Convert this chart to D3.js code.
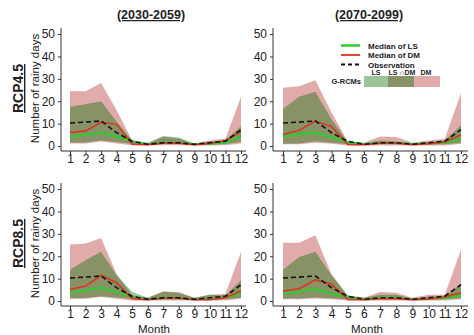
<!DOCTYPE html>
<html>
<head>
<meta charset="utf-8">
<script src="https://cdn.jsdelivr.net/npm/d3@7"></script>
<style>
  body { margin: 0; background: #fff; }
  svg { display: block; font-family: "Liberation Sans", Arial, sans-serif; }
</style>
</head>
<body>
<svg id="chart" width="474" height="335"></svg>
<script>
// months on the x axis
const months = [1, 2, 3, 4, 5, 6, 7, 8, 9, 10, 11, 12];
const yTicks = [0, 10, 20, 30, 40, 50];

// observation (same in all panels)
const observation = [10.3, 10.7, 11.2, 6, 2.1, 0.8, 1.5, 1.5, 0.8, 1.5, 2.2, 7.3];

// RCP4.5, 2030-2059
const r45a_dmHigh = [24.6, 24.5, 28.2, 16, 2.5, 1, 4, 3.3, 1, 2.5, 3.3, 22];
const r45a_dmLow  = [1.2, 1.2, 2, 1.2, 0.4, 0.2, 0.4, 0.4, 0.2, 0.3, 0.4, 1.2];
const r45a_lsHigh = [17.5, 18.7, 20, 11, 2.5, 1.5, 4.5, 3.8, 1, 2.2, 2.5, 9];
const r45a_lsLow  = [1.5, 1.6, 2.5, 1.8, 1, 0.6, 0.9, 0.9, 0.6, 0.7, 0.9, 1.8];
const r45a_lsMed  = [4.3, 5, 6, 4.3, 2.2, 0.8, 1.5, 1.5, 0.8, 1, 1.5, 4.3];
const r45a_dmMed  = [6.1, 6.7, 10.6, 9.7, 0.8, 0.6, 1.3, 1.3, 0.6, 1.2, 2.5, 6.6];

// RCP4.5, 2070-2099
const r45b_dmHigh = [26, 26.7, 29.4, 15, 2, 1.5, 4.3, 4, 1.5, 2.5, 3.3, 23.7];
const r45b_dmLow  = [0.8, 0.8, 1.5, 1, 0.3, 0.2, 0.3, 0.3, 0.2, 0.3, 0.3, 1];
const r45b_lsHigh = [16.7, 22, 24.2, 12, 1.8, 1, 2.5, 2, 1, 1.8, 2.5, 9.3];
const r45b_lsLow  = [1, 1.1, 2.2, 1.5, 0.8, 0.6, 0.8, 0.8, 0.6, 0.7, 0.8, 1.5];
const r45b_lsMed  = [4.3, 5.5, 6, 4, 1.8, 0.9, 1.5, 1.5, 0.9, 1.2, 1.5, 3.3];
const r45b_dmMed  = [5.2, 7, 11.2, 8.7, 0.7, 0.6, 1.3, 1.3, 0.6, 1, 1.8, 5];

// RCP8.5, 2030-2059
const r85a_dmHigh = [25.2, 25.7, 28.2, 12, 2.5, 1.5, 4.3, 4, 1.5, 2.8, 3.3, 22];
const r85a_dmLow  = [1, 1, 1.8, 1, 0.3, 0.2, 0.3, 0.3, 0.2, 0.3, 0.3, 1];
const r85a_lsHigh = [14, 18.2, 22, 11.5, 4, 1.5, 4.3, 3.6, 1.5, 2.8, 2.5, 9.3];
const r85a_lsLow  = [1.3, 1.4, 2.2, 1.6, 0.9, 0.6, 0.8, 0.8, 0.6, 0.7, 0.8, 1.5];
const r85a_lsMed  = [3.7, 4.8, 6, 4, 1.8, 0.8, 1.3, 1.3, 0.8, 1, 1.5, 3.6];
const r85a_dmMed  = [5.2, 6.7, 11.5, 8.2, 1, 0.6, 1.3, 1.3, 0.6, 0.6, 1.5, 4.5];

// RCP8.5, 2070-2099
const r85b_dmHigh = [26, 26, 29.4, 12, 2.5, 1.5, 4, 3.7, 1.5, 2.8, 2.8, 23];
const r85b_dmLow  = [0.8, 0.8, 1.2, 0.8, 0.3, 0.2, 0.3, 0.3, 0.2, 0.3, 0.3, 0.8];
const r85b_lsHigh = [14, 19.7, 22, 11.5, 2.5, 1.5, 2.8, 2.8, 1, 2, 2, 7.8];
const r85b_lsLow  = [1.1, 1.2, 1.6, 1.3, 0.8, 0.6, 0.8, 0.8, 0.6, 0.7, 0.8, 1.3];
const r85b_lsMed  = [3.3, 4.3, 5.5, 3.3, 1.8, 0.8, 1.5, 1.5, 0.8, 1, 1.3, 2.5];
const r85b_dmMed  = [4.5, 5.5, 9.5, 7.5, 0.7, 0.6, 1, 1, 0.6, 0.8, 1.8, 3.7];

const periods = ["(2030-2059)", "(2070-2099)"];
const scenarios = ["RCP4.5", "RCP8.5"];

const panels = [
  {row: 0, col: 0, dmHigh: r45a_dmHigh, dmLow: r45a_dmLow, lsHigh: r45a_lsHigh, lsLow: r45a_lsLow, lsMed: r45a_lsMed, dmMed: r45a_dmMed},
  {row: 0, col: 1, dmHigh: r45b_dmHigh, dmLow: r45b_dmLow, lsHigh: r45b_lsHigh, lsLow: r45b_lsLow, lsMed: r45b_lsMed, dmMed: r45b_dmMed},
  {row: 1, col: 0, dmHigh: r85a_dmHigh, dmLow: r85a_dmLow, lsHigh: r85a_lsHigh, lsLow: r85a_lsLow, lsMed: r85a_lsMed, dmMed: r85a_dmMed},
  {row: 1, col: 1, dmHigh: r85b_dmHigh, dmLow: r85b_dmLow, lsHigh: r85b_lsHigh, lsLow: r85b_lsLow, lsMed: r85b_lsMed, dmMed: r85b_dmMed}
];

const DM_FILL = "rgba(178,34,34,0.38)";
const LS_FILL = "rgba(0,110,0,0.4)";
const LS_LINE = "#2ecc2e";
const DM_LINE = "#e0301e";

// panel geometry (axis line extents, title centres)
const colX = [
  {x0: 61, x1: 246, m1: 70, m12: 241, title: 151, month: 154},
  {x0: 273, x1: 468, m1: 283, m12: 461, title: 369, month: 367}
];
const rowY = [{y0: 151, y1: 28}, {y0: 306, y1: 183}];

const svg = d3.select("#chart");

panels.forEach(p => {
  const c = colX[p.col], r = rowY[p.row];
  const x = d3.scaleLinear().domain([1, 12]).range([c.m1, c.m12]);
  const y = d3.scaleLinear().domain([-2.2, 52.7]).range([r.y0, r.y1]);
  const g = svg.append("g");

  const band = (hi, lo) => d3.area()
    .x((d, i) => x(months[i]))
    .y0((d, i) => y(lo[i]))
    .y1((d, i) => y(hi[i]));

  g.append("path").datum(months).attr("d", band(p.dmHigh, p.dmLow)).attr("fill", DM_FILL);
  g.append("path").datum(months).attr("d", band(p.lsHigh, p.lsLow)).attr("fill", LS_FILL);

  const line = d3.line().x((d, i) => x(months[i])).y(d => y(d));
  g.append("path").datum(p.lsMed).attr("d", line).attr("fill", "none")
    .attr("stroke", LS_LINE).attr("stroke-width", 2);
  g.append("path").datum(p.dmMed).attr("d", line).attr("fill", "none")
    .attr("stroke", DM_LINE).attr("stroke-width", 1.5);
  g.append("path").datum(observation).attr("d", line).attr("fill", "none")
    .attr("stroke", "#111").attr("stroke-width", 1.6).attr("stroke-dasharray", "5,3");

  // axes
  const xa = g.append("g").attr("transform", `translate(0,${r.y0})`)
    .call(d3.axisBottom(x).tickValues(months).tickFormat(d3.format("d"))
      .tickSize(3).tickPadding(1).tickSizeOuter(0));
  const ya = g.append("g").attr("transform", `translate(${c.x0},0)`)
    .call(d3.axisLeft(y).tickValues(yTicks).tickSize(3).tickSizeOuter(0));
  [xa, ya].forEach(a => {
    a.select(".domain").remove();
    a.selectAll("line").attr("stroke", "#333");
    a.selectAll("text").attr("fill", "#222").style("font-size", "12px").attr("font-family", null);
  });
  xa.selectAll("text").attr("dy", "0.68em");
  g.append("line").attr("x1", c.x0).attr("x2", c.x1).attr("y1", r.y0).attr("y2", r.y0)
    .attr("stroke", "#333").attr("stroke-width", 1);
  g.append("line").attr("x1", c.x0).attr("x2", c.x0).attr("y1", r.y0).attr("y2", r.y1)
    .attr("stroke", "#333").attr("stroke-width", 1);

  if (p.col === 0) {
    const cy = (r.y0 + r.y1) / 2 - 1;
    svg.append("text").attr("transform", `translate(39,${cy}) rotate(-90)`)
      .attr("text-anchor", "middle").style("font-size", "11.5px").attr("fill", "#222")
      .text("Number of rainy days");
    svg.append("text").attr("transform", `translate(23,${cy}) rotate(-90)`)
      .attr("text-anchor", "middle").style("font-size", "14px").style("font-weight", "bold")
      .attr("fill", "#222").attr("text-decoration", "underline")
      .text(scenarios[p.row]);
  }
  if (p.row === 0) {
    svg.append("text").attr("x", c.title).attr("y", 19)
      .attr("text-anchor", "middle").style("font-size", "12.5px").style("font-weight", "bold")
      .attr("fill", "#222").attr("text-decoration", "underline")
      .text(periods[p.col]);
  } else {
    svg.append("text").attr("x", c.month).attr("y", 333)
      .attr("text-anchor", "middle").style("font-size", "11.5px").attr("fill", "#222")
      .text("Month");
  }
});

// legend in the top-right panel
const lg = svg.append("g").style("font-weight", "bold").attr("fill", "#222");
const legendLines = [
  {label: "Median of LS", stroke: LS_LINE, w: 2.5, dash: null, y: 45.5},
  {label: "Median of DM", stroke: DM_LINE, w: 1.8, dash: null, y: 55},
  {label: "Observation", stroke: "#111", w: 1.8, dash: "4,3", y: 64.5}
];
legendLines.forEach(l => {
  lg.append("line").attr("x1", 341).attr("x2", 360).attr("y1", l.y).attr("y2", l.y)
    .attr("stroke", l.stroke).attr("stroke-width", l.w).attr("stroke-dasharray", l.dash);
  lg.append("text").attr("x", 368).attr("y", l.y + 3).style("font-size", "8px").text(l.label);
});
const boxes = [
  {label: "LS", x: 364, w: 24, cx: 376, fills: [LS_FILL]},
  {label: "LS \u2229DM", x: 388, w: 26, cx: 402, fills: [DM_FILL, LS_FILL]},
  {label: "DM", x: 414, w: 26, cx: 426, fills: [DM_FILL]}
];
boxes.forEach(b => {
  b.fills.forEach(f => lg.append("rect").attr("x", b.x).attr("y", 76).attr("width", b.w).attr("height", 11).attr("fill", f));
  lg.append("text").attr("x", b.cx).attr("y", 75).attr("text-anchor", "middle")
    .style("font-size", "7px").text(b.label);
});
lg.append("text").attr("x", 361).attr("y", 84).attr("text-anchor", "end").style("font-size", "7.5px").text("G-RCMs");
</script>
</body>
</html>
